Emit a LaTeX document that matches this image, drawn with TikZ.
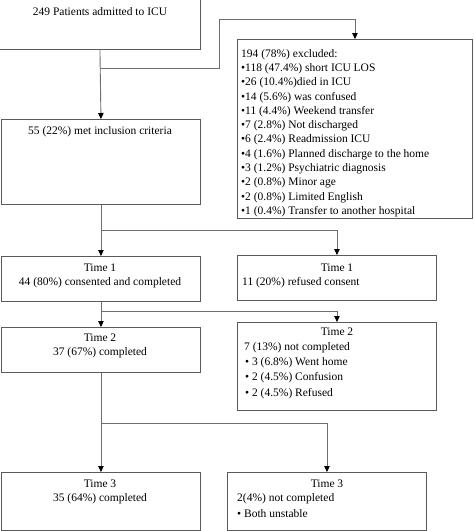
\documentclass[tikz,border=0pt]{standalone}
\usepackage{fontspec}
\setmainfont{Liberation Serif}
\usetikzlibrary{arrows.meta}
\definecolor{boxgray}{HTML}{5A5A5A}
\definecolor{linegray}{HTML}{6E6E6E}
\newcommand\fs{\fontsize{11.5}{14.3}\selectfont}
\tikzset{
  box/.style={draw=boxgray, line width=0.9pt, fill=white, inner sep=0pt, anchor=north west},
  txt/.style={inner sep=0pt, font=\fs},
  conn/.style={draw=linegray, line width=0.9pt},
  arr/.style={conn, -{Triangle[length=6pt,width=5.5pt,color=black]}}
}
\begin{document}
\begin{tikzpicture}[x=1pt,y=-1pt]
\useasboundingbox (0,0) rectangle (474,531);
% boxes
\node[box, minimum width=201, minimum height=50] (b1) at (-1,-1) {};
\node[box, minimum width=199, minimum height=85] (b2) at (1,119) {};
\node[box, minimum width=235, minimum height=179] (ex) at (237,39) {};
\node[box, minimum width=199, minimum height=45] (t1l) at (1,256) {};
\node[box, minimum width=199, minimum height=45] (t1r) at (237,255) {};
\node[box, minimum width=199, minimum height=45] (t2l) at (1,327) {};
\node[box, minimum width=199, minimum height=88] (t2r) at (237,322) {};
\node[box, minimum width=199, minimum height=58] (t3l) at (1,472) {};
\node[box, minimum width=199, minimum height=58] (t3r) at (227,472) {};
% texts
\node[txt, anchor=mid] (tb1) at (100,13) {249 Patients admitted to ICU};
\node[txt, anchor=mid] (tb2) at (100,132) {55 (22\%) met inclusion criteria};
\node[txt, anchor=north west, align=left] (tex) at (241,49) {194 (78\%) excluded:\\
\textbullet118 (47.4\%) short ICU LOS\\
\textbullet26 (10.4\%)died in ICU\\
\textbullet14 (5.6\%) was confused\\
\textbullet11 (4.4\%) Weekend transfer\\
\textbullet7 (2.8\%) Not discharged\\
\textbullet6 (2.4\%) Readmission ICU\\
\textbullet4 (1.6\%) Planned discharge to the home\\
\textbullet3 (1.2\%) Psychiatric diagnosis\\
\textbullet2 (0.8\%) Minor age\\
\textbullet2 (0.8\%) Limited English\\
\textbullet1 (0.4\%) Transfer to another hospital};
\node[txt, anchor=mid] (tt1a) at (100,269) {Time 1};
\node[txt, anchor=mid] (tt1b) at (100,283) {44 (80\%) consented and completed};
\node[txt, anchor=mid] (tt1c) at (337,269) {Time 1};
\node[txt, anchor=mid west] (tt1d) at (242,283) {11 (20\%) refused consent};
\node[txt, anchor=mid] (tt2a) at (100,339) {Time 2};
\node[txt, anchor=mid] (tt2b) at (100,353) {37 (67\%) completed};
\node[txt, anchor=mid] (tt2c) at (337,333) {Time 2};
\node[txt, anchor=mid west] (tt2d) at (244,348) {7 (13\%) not completed};
\node[txt, anchor=mid west] (tt2e) at (245,363) {\textbullet\ 3 (6.8\%) Went home};
\node[txt, anchor=mid west] (tt2f) at (245,378) {\textbullet\ 2 (4.5\%) Confusion};
\node[txt, anchor=mid west] (tt2g) at (245,394) {\textbullet\ 2 (4.5\%) Refused};
\node[txt, anchor=mid] (tt3a) at (100,485) {Time 3};
\node[txt, anchor=mid] (tt3b) at (100,499) {35 (64\%) completed};
\node[txt, anchor=mid] (tt3c) at (327,485) {Time 3};
\node[txt, anchor=mid west] (tt3d) at (237,499) {2(4\%) not completed};
\node[txt, anchor=mid west] (tt3e) at (237,515) {\textbullet\ Both unstable};
% junction coordinates
\coordinate (j1) at (b1.south |- 0,68);
\coordinate (k1) at (219,68);
\coordinate (k2) at (219,19);
\coordinate (j2) at (b2.south |- 0,230);
\coordinate (j3) at (t1l.south |- 0,311);
\coordinate (j4) at (t2l.south |- 0,423);
% connectors
\draw[arr] (b1.south) -- (b2.north);
\draw[arr] (j1) -- (k1) -- (k2) -| (ex.north);
\draw[arr] (b2.south) -- (t1l.north);
\draw[arr] (j2) -| (t1r.north);
\draw[arr] (t1l.south) -- (t2l.north);
\draw[arr] (j3) -| (t2r.north);
\draw[arr] (t2l.south) -- (t3l.north);
\draw[arr] (j4) -| (t3r.north);
\end{tikzpicture}
\end{document}
